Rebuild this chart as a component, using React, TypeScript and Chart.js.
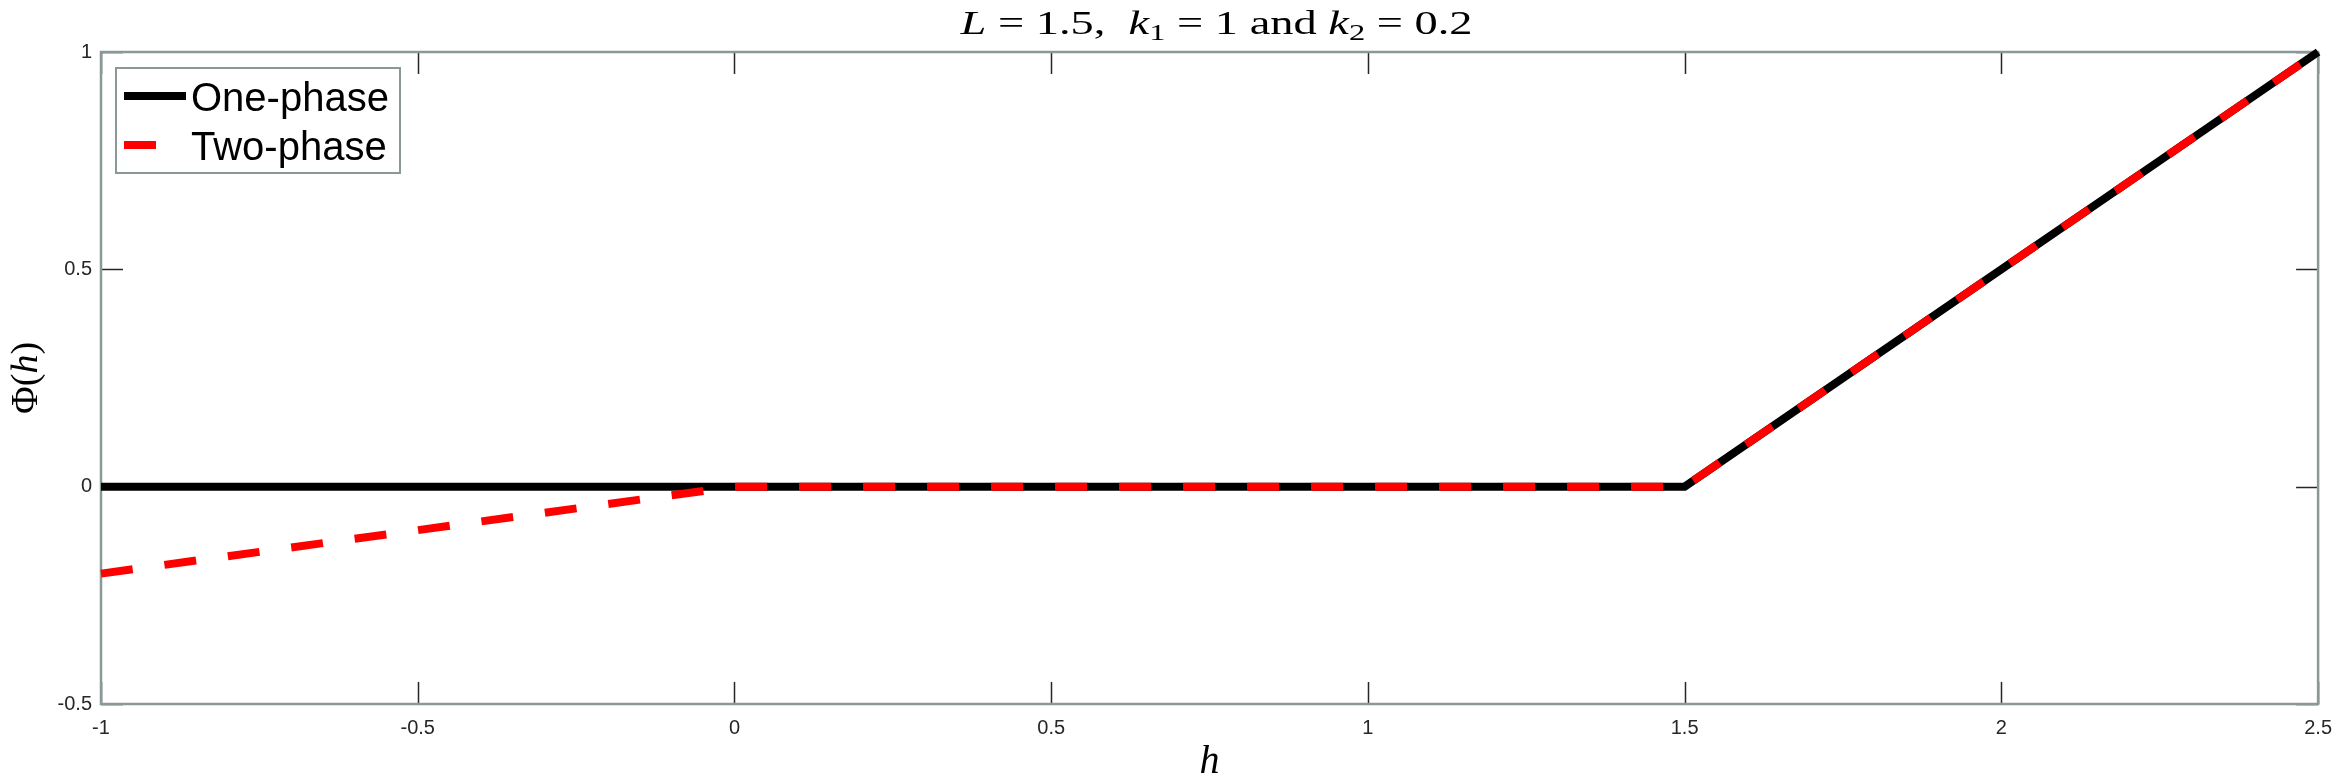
import React, { useEffect, useRef } from 'react';
import { Chart, registerables } from 'chart.js';

Chart.register(...registerables);

// ---- data ----
const seriesNames = ['One-phase', 'Two-phase'];
const onePhaseH = [-1, 1.5, 2.5];
const onePhasePhi = [0, 0, 1];
const twoPhaseH = [-1, 0, 1.5, 2.5];
const twoPhasePhi = [-0.2, 0, 0, 1];
const xTickValues = [-1, -0.5, 0, 0.5, 1, 1.5, 2, 2.5];
const xTickLabels = ['-1', '-0.5', '0', '0.5', '1', '1.5', '2', '2.5'];
const yTickValues = [-0.5, 0, 0.5, 1];
const yTickLabels = ['-0.5', '0', '0.5', '1'];
const titleParts = [
  { t: 'L', it: true },
  { t: ' = 1.5,  ' },
  { t: 'k', it: true },
  { t: '1', sub: true },
  { t: ' = 1 and ' },
  { t: 'k', it: true },
  { t: '2', sub: true },
  { t: ' = 0.2' },
];
const xAxisLabel = 'h';
const yAxisLabelParts = [{ t: 'Φ(' }, { t: 'h', it: true }, { t: ')' }];

const AXIS_COLOR = '#8a9898';
const TICK_COLOR = '#262626';
const SERIF = '"Liberation Serif", "DejaVu Serif", serif';
const SANS = '"Liberation Sans", Arial, sans-serif';

function drawParts(ctx: CanvasRenderingContext2D, parts: any[], size: number, x: number, y: number) {
  let cx = x;
  for (const p of parts) {
    const fs = p.sub ? size * 0.7 : size;
    ctx.font = `${p.it ? 'italic ' : ''}${fs}px ${SERIF}`;
    ctx.fillText(p.t, cx, p.sub ? y + size * 0.18 : y);
    cx += ctx.measureText(p.t).width;
  }
  return cx - x;
}
function measureParts(ctx: CanvasRenderingContext2D, parts: any[], size: number) {
  let w = 0;
  for (const p of parts) {
    const fs = p.sub ? size * 0.7 : size;
    ctx.font = `${p.it ? 'italic ' : ''}${fs}px ${SERIF}`;
    w += ctx.measureText(p.t).width;
  }
  return w;
}

const matlabPlugin = {
  id: 'matlabLook',
  beforeDatasetsDraw(chart: any) {
    const { ctx, chartArea: a, scales } = chart;
    const x = scales.x;
    const y = scales.y;
    ctx.save();
    ctx.strokeStyle = TICK_COLOR;
    ctx.lineWidth = 1.5;
    ctx.beginPath();
    const tl = 22;
    x.ticks.forEach((t: any) => {
      const px = Math.round(x.getPixelForValue(t.value)) + 0.5;
      ctx.moveTo(px, a.bottom);
      ctx.lineTo(px, a.bottom - tl);
      ctx.moveTo(px, a.top);
      ctx.lineTo(px, a.top + tl);
    });
    y.ticks.forEach((t: any) => {
      const py = Math.round(y.getPixelForValue(t.value)) + 0.5;
      ctx.moveTo(a.left, py);
      ctx.lineTo(a.left + tl, py);
      ctx.moveTo(a.right, py);
      ctx.lineTo(a.right - tl, py);
    });
    ctx.stroke();
    ctx.strokeStyle = AXIS_COLOR;
    ctx.lineWidth = 2.5;
    ctx.strokeRect(a.left, a.top, a.right - a.left, a.bottom - a.top);
    ctx.restore();
  },
  afterDraw(chart: any) {
    const { ctx, chartArea: a } = chart;
    ctx.save();
    ctx.fillStyle = '#000';
    ctx.textBaseline = 'alphabetic';
    ctx.textAlign = 'left';

    // title (stretched horizontally to match the LaTeX rendering)
    const tSize = 34;
    const natural = measureParts(ctx, titleParts, tSize);
    const targetW = 512;
    const sx = targetW / natural;
    const cxTitle = (a.left + a.right) / 2 + 7;
    ctx.save();
    ctx.translate(cxTitle - targetW / 2, 34);
    ctx.scale(sx, 1);
    drawParts(ctx, titleParts, tSize, 0, 0);
    ctx.restore();

    // x label
    ctx.font = `italic 40px ${SERIF}`;
    ctx.textAlign = 'center';
    ctx.fillText(xAxisLabel, (a.left + a.right) / 2, 773);
    ctx.textAlign = 'left';

    // y label
    const ySize = 38;
    const yw = measureParts(ctx, yAxisLabelParts, ySize);
    ctx.save();
    ctx.translate(37, (a.top + a.bottom) / 2);
    ctx.rotate(-Math.PI / 2);
    drawParts(ctx, yAxisLabelParts, ySize, -yw / 2, 0);
    ctx.restore();

    // legend
    const ds = chart.data.datasets;
    const bx = a.left + 15;
    const by = a.top + 16;
    const bw = 284;
    const bh = 105;
    ctx.fillStyle = '#fff';
    ctx.fillRect(bx, by, bw, bh);
    ctx.strokeStyle = AXIS_COLOR;
    ctx.lineWidth = 2;
    ctx.strokeRect(bx, by, bw, bh);
    const rows = [by + 28, by + 77];
    ds.forEach((d: any, i: number) => {
      const ly = rows[i];
      ctx.save();
      ctx.strokeStyle = d.borderColor;
      ctx.lineWidth = d.borderWidth;
      ctx.lineCap = 'butt';
      ctx.setLineDash(d.borderDash || []);
      ctx.beginPath();
      ctx.moveTo(bx + 8, ly);
      ctx.lineTo(bx + 70, ly);
      ctx.stroke();
      ctx.restore();
      ctx.fillStyle = '#000';
      ctx.font = `40px ${SANS}`;
      ctx.fillText(d.label, bx + 75, ly + 15);
    });
    ctx.restore();
  },
};

export default function App() {
  const ref = useRef<HTMLCanvasElement | null>(null);
  useEffect(() => {
    document.body.style.margin = '0';
    const canvas = ref.current;
    if (!canvas) return;
    const chart = new Chart(canvas, {
      type: 'line',
      data: {
        datasets: [
          {
            label: seriesNames[0],
            data: onePhaseH.map((h, i) => ({ x: h, y: onePhasePhi[i] })),
            borderColor: '#000000',
            borderWidth: 8,
            pointRadius: 0,
            tension: 0,
            fill: false,
            order: 1,
            borderCapStyle: 'butt',
            clip: false,
          },
          {
            label: seriesNames[1],
            data: twoPhaseH.map((h, i) => ({ x: h, y: twoPhasePhi[i] })),
            borderColor: '#ff0000',
            borderWidth: 8,
            borderDash: [32, 32],
            pointRadius: 0,
            tension: 0,
            fill: false,
            order: 0,
            borderCapStyle: 'butt',
            clip: false,
          },
        ],
      },
      options: {
        animation: false,
        responsive: false,
        devicePixelRatio: 1,
        layout: { padding: { top: 52, right: 20, left: 0, bottom: 0 } },
        plugins: {
          legend: { display: false },
          title: { display: false },
          tooltip: { enabled: false },
        },
        scales: {
          x: {
            type: 'linear',
            min: -1,
            max: 2.5,
            grid: { display: false, drawTicks: false },
            border: { display: false },
            afterBuildTicks: (s: any) => {
              s.ticks = xTickValues.map((v) => ({ value: v }));
            },
            afterFit: (s: any) => {
              s.height = 72;
            },
            ticks: {
              autoSkip: false,
              maxRotation: 0,
              padding: 12,
              color: TICK_COLOR,
              font: { family: SANS, size: 20 },
              callback: (_v: any, i: number) => xTickLabels[i],
            },
          },
          y: {
            type: 'linear',
            min: -0.5,
            max: 1,
            grid: { display: false, drawTicks: false },
            border: { display: false },
            afterBuildTicks: (s: any) => {
              s.ticks = yTickValues.map((v) => ({ value: v }));
            },
            afterFit: (s: any) => {
              s.width = 101;
            },
            ticks: {
              autoSkip: false,
              padding: 9,
              color: TICK_COLOR,
              font: { family: SANS, size: 20 },
              callback: (_v: any, i: number) => yTickLabels[i],
            },
          },
        },
      } as any,
      plugins: [matlabPlugin],
    });
    return () => chart.destroy();
  }, []);
  return (
    <div style={{ width: 2344, height: 776, background: '#fff' }}>
      <canvas ref={ref} width={2344} height={776} style={{ display: 'block' }} />
    </div>
  );
}
